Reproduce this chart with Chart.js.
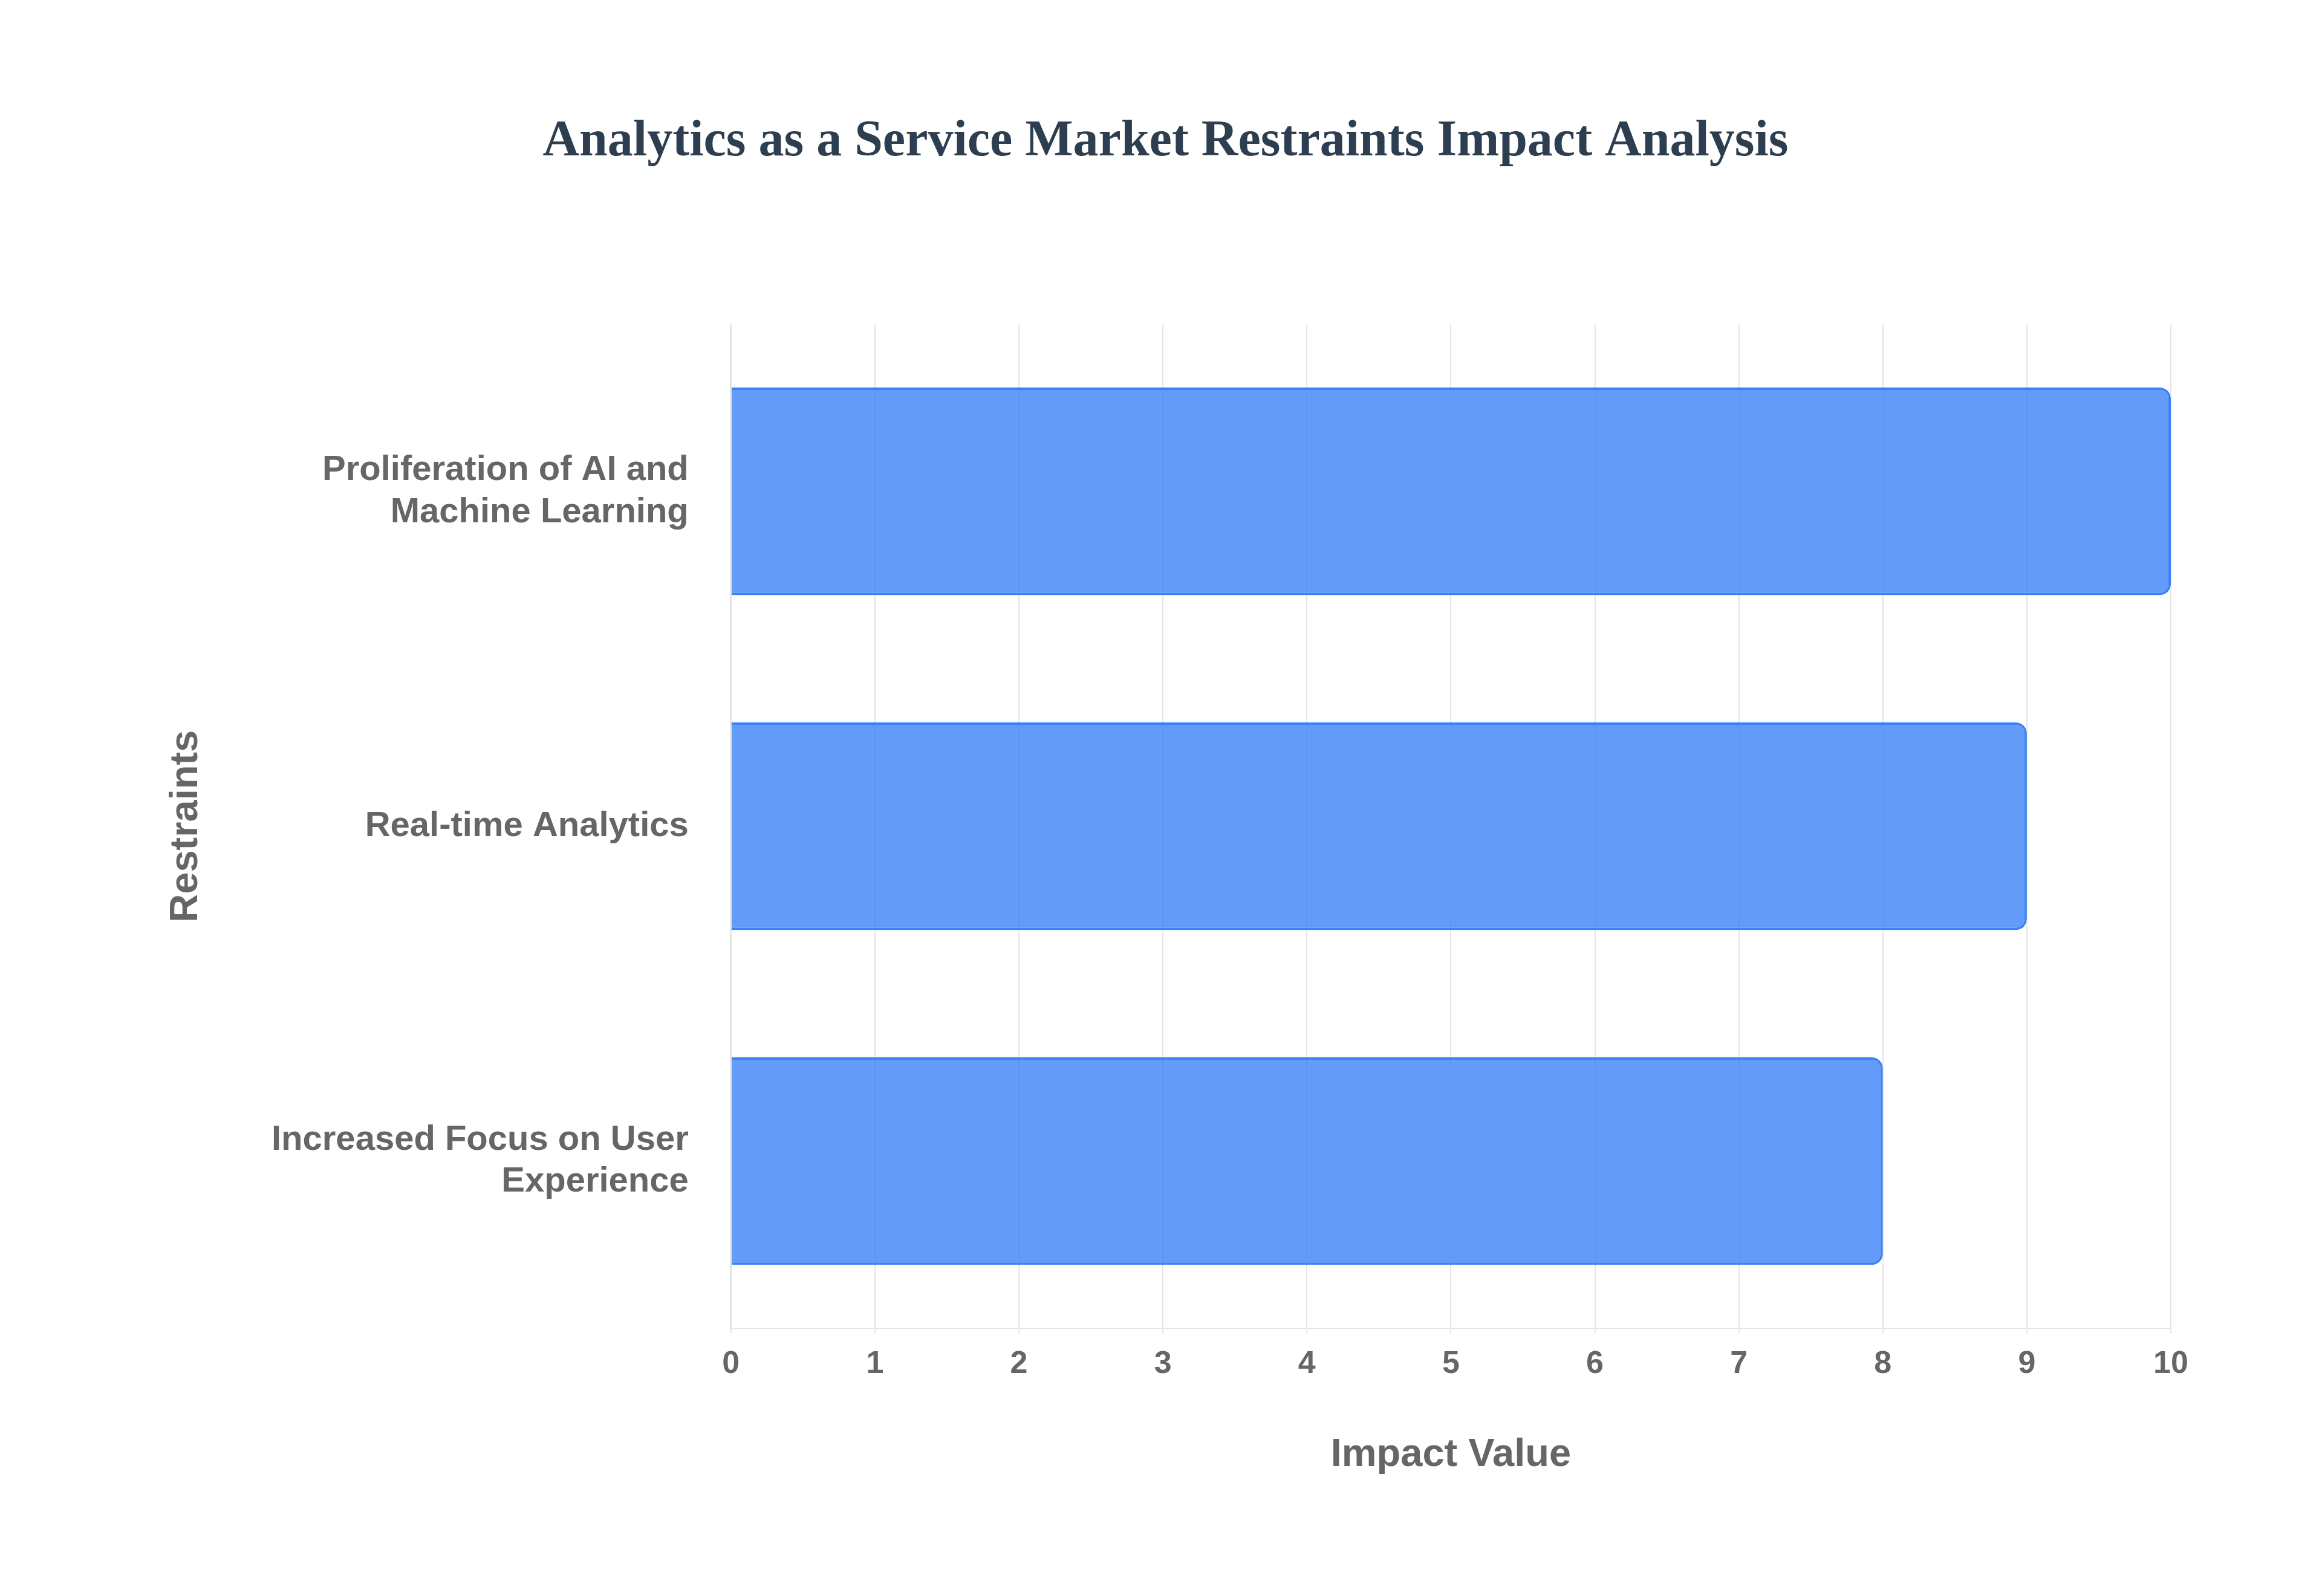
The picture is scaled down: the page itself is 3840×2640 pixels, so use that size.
<!DOCTYPE html>
<html>
<head>
<meta charset="utf-8">
<script src="https://cdn.jsdelivr.net/npm/chart.js@4"></script>
<style>
  html, body { margin: 0; padding: 0; background: #ffffff; }
  canvas { display: block; }
</style>
</head>
<body>
<canvas id="chart" width="3840" height="2640"></canvas>
<script>
const categories = [
  ['Proliferation of AI and', 'Machine Learning'],
  'Real-time Analytics',
  ['Increased Focus on User', 'Experience']
];
const impactValues = [10, 9, 8];

new Chart(document.getElementById('chart'), {
  type: 'bar',
  data: {
    labels: categories,
    datasets: [{
      label: 'Impact Value',
      data: impactValues,
      backgroundColor: 'rgba(59, 130, 246, 0.8)',
      borderColor: 'rgba(59, 130, 246, 1)',
      borderWidth: 4,
      borderRadius: 18,
      borderSkipped: 'start',
      barPercentage: 0.62,
      categoryPercentage: 1
    }]
  },
  options: {
    indexAxis: 'y',
    responsive: false,
    devicePixelRatio: 1,
    animation: false,
    layout: { padding: { top: 185, right: 250, bottom: 190, left: 265 } },
    plugins: {
      legend: { display: false },
      title: {
        display: true,
        text: 'Analytics as a Service Market Restraints Impact Analysis',
        color: '#2c3e50',
        font: { family: 'Liberation Serif', size: 84, weight: 'bold' },
        padding: { top: 0, bottom: 250 }
      }
    },
    scales: {
      x: {
        min: 0,
        max: 10,
        ticks: {
          stepSize: 1,
          color: '#666666',
          font: { family: 'Liberation Sans', size: 52, weight: 'bold' },
          padding: 20
        },
        grid: { color: 'rgba(0,0,0,0.1)', lineWidth: 2 },
        title: {
          display: true,
          text: 'Impact Value',
          color: '#666666',
          font: { family: 'Liberation Sans', size: 65, weight: 'bold' },
          padding: { top: 60 }
        }
      },
      y: {
        ticks: {
          color: '#666666',
          font: { family: 'Liberation Sans', size: 58, weight: 'bold' },
          padding: 62
        },
        grid: { display: false },
        title: {
          display: true,
          text: 'Restraints',
          color: '#666666',
          font: { family: 'Liberation Sans', size: 65, weight: 'bold' },
          padding: { bottom: 40 }
        }
      }
    }
  }
});
</script>
</body>
</html>
